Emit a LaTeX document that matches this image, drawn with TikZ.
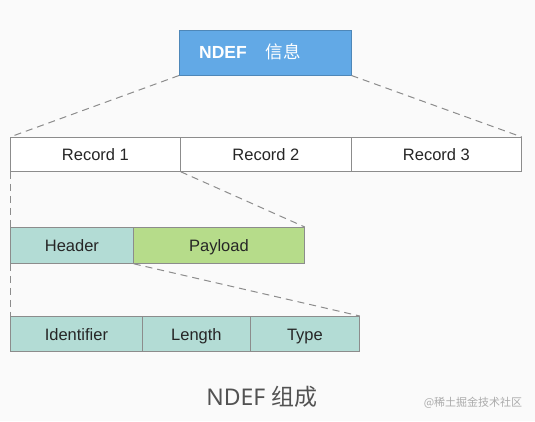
\documentclass[tikz,border=0pt]{standalone}
\usepackage{fontspec}
\setmainfont{Liberation Sans}
\newfontfamily\cjk{Noto Sans CJK SC}
\newfontfamily\capfont{Noto Sans}
\begin{document}
\begin{tikzpicture}[x=1pt,y=-1pt,
  cell/.style={draw=black!45,line width=0.8pt,minimum height=0pt,inner sep=0pt,text height=14pt,text depth=1.5pt,font=\fontsize{16.5}{19}\selectfont,text=black!85},
  guide/.style={draw=black!45,dashed,dash pattern=on 7pt off 5pt,line width=1pt}]
\definecolor{bg}{HTML}{FAFAFA}
\definecolor{ndefblue}{HTML}{62A9E6}
\definecolor{teal}{HTML}{B3DCD5}
\definecolor{green}{HTML}{B6DC8A}
\fill[bg] (0,0) rectangle (535,421);
\useasboundingbox (0,0) rectangle (535,421);
% NDEF
\node[fill=ndefblue,draw=ndefblue!80!black,line width=0.5pt,minimum width=172pt,minimum height=45pt,inner sep=0pt,anchor=north west] (ndef) at (179,30) {};
\node[anchor=west,inner sep=0pt,text=white,font=\bfseries\fontsize{17.5}{20}\selectfont] (ndeft) at (199,52) {NDEF\hspace{19pt}{\cjk\mdseries 信息}};
% Records
\node[cell,fill=white,minimum width=170pt,minimum height=34pt,anchor=north west] (r1) at (10,137) {Record 1};
\node[cell,fill=white,minimum width=171pt,minimum height=34pt,anchor=north west] (r2) at (180,137) {Record 2};
\node[cell,fill=white,minimum width=170pt,minimum height=34pt,anchor=north west] (r3) at (351,137) {Record 3};
% Header/Payload
\node[cell,fill=teal,minimum width=123pt,minimum height=36pt,anchor=north west] (hd) at (10,227) {Header};
\node[cell,fill=green,minimum width=171pt,minimum height=36pt,anchor=north west] (pl) at (133,227) {Payload};
% Identifier etc
\node[cell,fill=teal,minimum width=132pt,minimum height=35pt,anchor=north west] (id) at (10,316) {Identifier};
\node[cell,fill=teal,minimum width=108pt,minimum height=35pt,anchor=north west] (ln) at (142,316) {Length};
\node[cell,fill=teal,minimum width=109pt,minimum height=35pt,anchor=north west] (ty) at (250,316) {Type};
% guides
\draw[guide] (ndef.south west) -- (r1.north west);
\draw[guide] (ndef.south east) -- (r3.north east);
\draw[guide] (r1.south west) -- (hd.north west);
\draw[guide] (r1.south east) -- (pl.north east);
\draw[guide] (hd.south west) -- (id.north west);
\draw[guide] (hd.south east) -- (ty.north east);
% caption
\node[text=black!68,font=\fontsize{23}{27}\selectfont] (cap) at (262,397) {{\capfont NDEF} {\cjk 组成}};
\node[text=black!33,font=\cjk\fontsize{11}{13}\selectfont] (wm) at (473,403) {@稀土掘金技术社区};
\end{tikzpicture}
\end{document}
